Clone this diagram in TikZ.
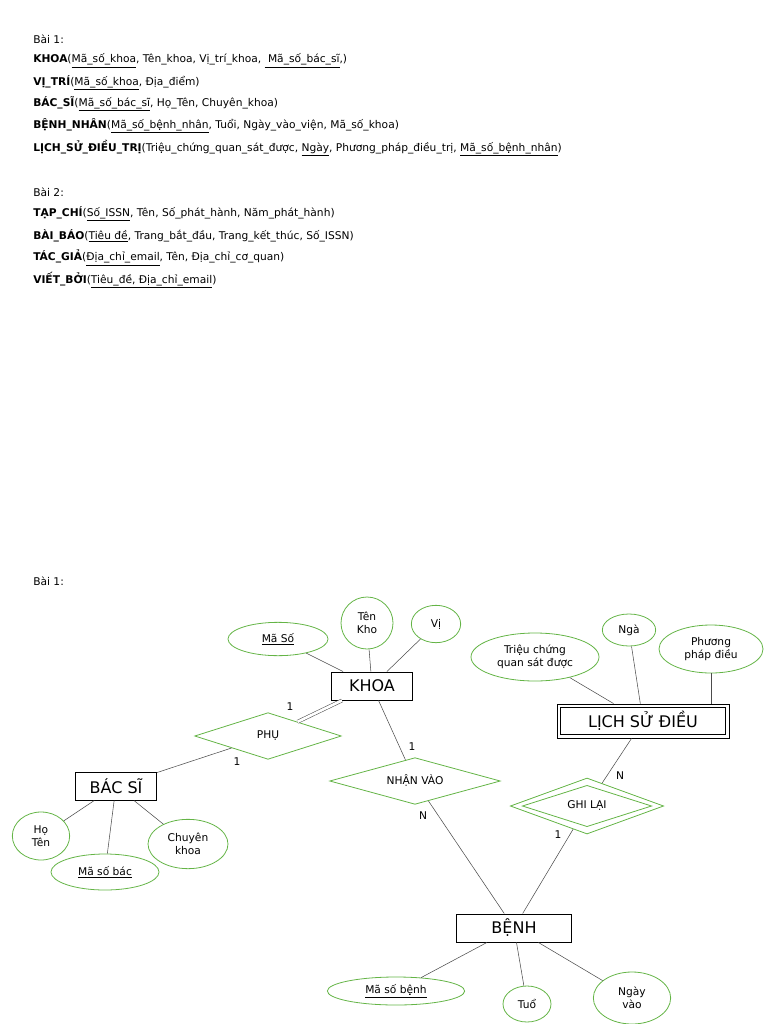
\documentclass[tikz,border=0pt]{standalone}
\usepackage{fontspec}
\setmainfont{DejaVu Sans}
\usetikzlibrary{shapes.geometric}
\definecolor{eg}{RGB}{100,180,70}
\begin{document}
\begin{tikzpicture}[x=0.75pt,y=-0.75pt,
 txt/.style={anchor=west,font=\fontsize{8}{9}\selectfont,inner sep=0},
 ent/.style={draw,line width=0.7pt,minimum height=21pt,font=\fontsize{12}{14}\selectfont,inner sep=0},
 att/.style={draw=eg,ellipse,line width=0.6pt,font=\fontsize{8}{10}\selectfont,align=center,inner sep=0},
 rel/.style={draw=eg,diamond,aspect=3.2,line width=0.6pt,font=\fontsize{8}{10}\selectfont,inner sep=0},
 ln/.style={draw=black!70,line width=0.4pt},
 lab/.style={font=\fontsize{8}{9}\selectfont,inner sep=0}]
\useasboundingbox (0,0) rectangle (768,1024);
\node[txt] (t0) at (33,39) {Bài 1:};
\node[txt] (t1) at (33,61) {\textbf{KHOA}(\underline{Mã\_số\_khoa}, Tên\_khoa, Vị\_trí\_khoa, \underline{ Mã\_số\_bác\_sĩ},)};
\node[txt] (t2) at (33,83) {\textbf{VỊ\_TRÍ}(\underline{Mã\_số\_khoa}, Địa\_điểm)};
\node[txt] (t3) at (33,104) {\textbf{BÁC\_SĨ}(\underline{Mã\_số\_bác\_sĩ}, Họ\_Tên, Chuyên\_khoa)};
\node[txt] (t4) at (33,126) {\textbf{BỆNH\_NHÂN}(\underline{Mã\_số\_bệnh\_nhân}, Tuổi, Ngày\_vào\_viện, Mã\_số\_khoa)};
\node[txt] (t5) at (33,148) {\textbf{LỊCH\_SỬ\_ĐIỀU\_TRỊ}(Triệu\_chứng\_quan\_sát\_được, \underline{Ngày}, Phương\_pháp\_điều\_trị, \underline{Mã\_số\_bệnh\_nhân})};
\node[txt] (t6) at (33,192) {Bài 2:};
\node[txt] (t7) at (33,214) {\textbf{TẠP\_CHÍ}(\underline{Số\_ISSN}, Tên, Số\_phát\_hành, Năm\_phát\_hành)};
\node[txt] (t8) at (33,236) {\textbf{BÀI\_BÁO}(\underline{Tiêu đề}, Trang\_bắt\_đầu, Trang\_kết\_thúc, Số\_ISSN)};
\node[txt] (t9) at (33,258) {\textbf{TÁC\_GIẢ}(\underline{Địa\_chỉ\_email}, Tên, Địa\_chỉ\_cơ\_quan)};
\node[txt] (t10) at (33,280) {\textbf{VIẾT\_BỞI}(\underline{Tiêu\_đề, Địa\_chỉ\_email})};
\node[txt] (t11) at (33,581) {Bài 1:};
% entities
\node[ent,minimum width=61pt] (khoa) at (372,686) {KHOA};
\node[ent,minimum width=61pt] (bacsi) at (116,786) {BÁC SĨ};
\node[ent,minimum width=86pt] (benh) at (514,928) {BỆNH};
\node[ent,minimum width=129pt,minimum height=25.5pt] (ls) at (643,721) {};
\node[draw,line width=0.7pt,minimum width=124pt,minimum height=20pt,inner sep=0,font=\fontsize{12}{14}\selectfont] (lsi) at (643,721) {LỊCH SỬ ĐIỀU};
% relationships
\node[rel,minimum width=110pt,minimum height=35pt] (phu) at (268,736) {PHỤ};
\node[rel,minimum width=128pt,minimum height=35pt] (nhan) at (415,781) {NHẬN VÀO};
\node[rel,minimum width=115pt,minimum height=42pt] (ghi) at (587,806) {};
\node[rel,minimum width=97pt,minimum height=31pt] (ghii) at (587,806) {GHI LẠI};
% attributes
\node[att,minimum width=75pt,minimum height=25pt] (msk) at (278,639) {\underline{Mã Số}};
\node[att,minimum width=39pt,minimum height=39pt] (tenk) at (367,623) {Tên\\Kho};
\node[att,minimum width=37pt,minimum height=28pt] (vitri) at (436,624) {Vị};
\node[att,minimum width=96pt,minimum height=36pt] (trieu) at (535,657) {Triệu chứng\\quan sát được};
\node[att,minimum width=40pt,minimum height=24pt] (nga) at (629,630) {Ngà};
\node[att,minimum width=78pt,minimum height=36pt] (pp) at (711,649) {Phương\\pháp điều};
\node[att,minimum width=43pt,minimum height=36pt] (hoten) at (41,836) {Họ\\Tên};
\node[att,minimum width=81pt,minimum height=27pt] (msbs) at (105,872) {\underline{Mã số bác}};
\node[att,minimum width=60pt,minimum height=37pt] (ck) at (188,844) {Chuyên\\khoa};
\node[att,minimum width=103pt,minimum height=21pt] (msb) at (396,991) {\underline{Mã số bệnh}};
\node[att,minimum width=36pt,minimum height=27pt] (tuoi) at (527,1004) {Tuổ};
\node[att,minimum width=58pt,minimum height=39pt] (ngay) at (632,998) {Ngày\\vào};
% connectors
\draw[ln] (msk) -- (khoa);
\draw[ln] (tenk) -- (khoa);
\draw[ln] (vitri) -- (khoa);
\draw[ln] (trieu) -- (ls);
\draw[ln] (nga) -- (ls);
\draw[ln] (pp.south) -- (ls.north -| pp.south);
\draw[ln] (hoten) -- (bacsi);
\draw[ln] (msbs) -- (bacsi);
\draw[ln] (ck) -- (bacsi);
\draw[ln] (msb) -- (benh);
\draw[ln] (tuoi) -- (benh);
\draw[ln] (ngay) -- (benh);
\draw[ln,double,double distance=2pt] (phu) -- (khoa);
\draw[ln] (phu) -- (bacsi);
\draw[ln] (khoa) -- (nhan);
\draw[ln] (nhan) -- (benh);
\draw[ln] (ls) -- (ghi);
\draw[ln] (ghi) -- (benh);
\node[lab] (l1) at (290,707) {1};
\node[lab] (l2) at (237,762) {1};
\node[lab] (l3) at (412,747) {1};
\node[lab] (l4) at (423,816) {N};
\node[lab] (l5) at (620,776) {N};
\node[lab] (l6) at (558,835) {1};
\end{tikzpicture}
\end{document}
